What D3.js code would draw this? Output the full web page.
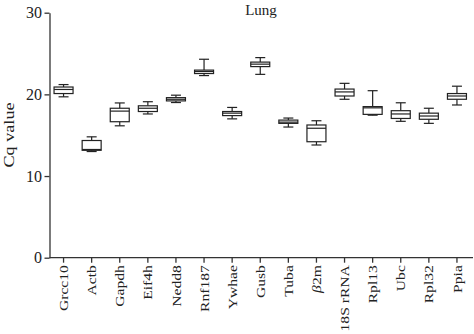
<!DOCTYPE html>
<html><head><meta charset="utf-8">
<script src="https://cdn.jsdelivr.net/npm/d3@7"></script>
<style>body{margin:0;background:#fff}svg{display:block}</style>
</head><body>
<svg id="c" width="474" height="334"></svg>
<script>
const categories = ["Grcc10","Actb","Gapdh","Eif4h","Nedd8","Rnf187","Ywhae","Gusb","Tuba","\u03B22m","18S rRNA","Rpl13","Ubc","Rpl32","Ppia"];
const whiskerMin = [19.7,13.0,16.15,17.6,19.0,22.3,17.0,22.45,16.0,13.8,19.4,17.45,16.7,16.45,18.7];
const q1 =         [20.1,13.15,16.65,17.9,19.2,22.55,17.4,23.4,16.45,14.2,19.8,17.55,17.05,16.95,19.4];
const median =     [20.6,13.25,17.95,18.3,19.4,22.8,17.7,23.7,16.6,15.85,20.3,18.35,17.6,17.35,19.8];
const q3 =         [20.9,14.35,18.3,18.6,19.6,22.97,17.9,23.95,16.85,16.25,20.65,18.5,18.0,17.7,20.1];
const whiskerMax = [21.2,14.8,18.95,19.1,19.9,24.3,18.4,24.5,17.1,16.77,21.35,20.45,18.97,18.3,21.0];
const yTicks = [0,10,20,30];

(function(){
const svg = d3.select("#c");
const mL = 49.5, mR = 471, mT = 12.7, mB = 257.7;
const serif = "'Liberation Serif','Times New Roman',serif";
const ink = "#333";
const s = 1.2;

const x = d3.scaleBand().domain(categories).range([mL, mR]).padding(0);
const y = d3.scaleLinear().domain([0,30]).range([mB, mT]);

// axes
const yAxis = svg.append("g").attr("transform",`translate(${mL},0)`)
  .call(d3.axisLeft(y).tickValues(yTicks).tickSize(5).tickPadding(2.5).tickSizeOuter(0));
yAxis.select(".domain").attr("stroke",ink).attr("stroke-width",1.3);
yAxis.selectAll(".tick line").attr("stroke",ink).attr("stroke-width",1.3);
yAxis.selectAll(".tick text").attr("font-family",serif).attr("font-size",16).attr("fill","#222");

const xAxis = svg.append("g").attr("transform",`translate(0,${mB})`)
  .call(d3.axisBottom(x).tickSize(5).tickSizeOuter(0).tickPadding(4));
xAxis.select(".domain").attr("stroke",ink).attr("stroke-width",1.3).attr("d",`M${mL},0H${mR+2}`);
xAxis.selectAll(".tick line").attr("stroke",ink).attr("stroke-width",1.3);
xAxis.selectAll(".tick text")
  .attr("font-family",serif).attr("font-size",13).attr("fill","#222")
  .attr("transform",`rotate(-90) scale(${s},1)`).attr("text-anchor","end")
  .attr("x",-7.5/s).attr("y",0).attr("dy","0.35em")
  .html(d => d === "\u03B22m" ? '<tspan font-style="italic">\u03B2</tspan>2m' : d);

// boxes
const bw = 19, cw = 10;
const g = svg.append("g").attr("stroke","#222").attr("stroke-width",1.2).attr("fill","none");
categories.forEach((c,i) => {
  const cx = x(c) + x.bandwidth()/2;
  const b = g.append("g");
  b.append("line").attr("x1",cx).attr("x2",cx).attr("y1",y(whiskerMax[i])).attr("y2",y(q3[i]));
  b.append("line").attr("x1",cx).attr("x2",cx).attr("y1",y(q1[i])).attr("y2",y(whiskerMin[i]));
  b.append("line").attr("x1",cx-cw/2).attr("x2",cx+cw/2).attr("y1",y(whiskerMax[i])).attr("y2",y(whiskerMax[i]));
  b.append("line").attr("x1",cx-cw/2).attr("x2",cx+cw/2).attr("y1",y(whiskerMin[i])).attr("y2",y(whiskerMin[i]));
  b.append("rect").attr("x",cx-bw/2).attr("width",bw).attr("y",y(q3[i])).attr("height",y(q1[i])-y(q3[i])).attr("fill","#fff");
  b.append("line").attr("x1",cx-bw/2).attr("x2",cx+bw/2).attr("y1",y(median[i])).attr("y2",y(median[i]));
});

// title
svg.append("text").attr("x",261).attr("y",15).attr("text-anchor","middle")
  .attr("font-family",serif).attr("font-size",15).attr("fill","#222").text("Lung");

// y label
svg.append("text").attr("transform",`translate(14,135) rotate(-90) scale(1.3,1)`)
  .attr("text-anchor","middle").attr("font-family",serif).attr("font-size",14).attr("fill","#222")
  .text("Cq value");
})();
</script>
</body></html>
